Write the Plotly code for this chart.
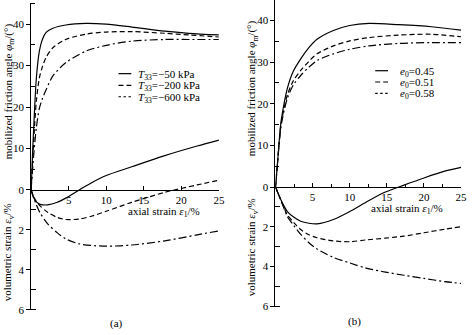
import plotly.graph_objects as go

# ---------------- data: panel (a) ----------------
a_eps_phi = [0, 0.2, 0.4, 0.7, 1.1, 1.5, 2.0, 2.9, 4.6, 7.3, 10, 13.4, 17.8, 21, 25]
a_phi_50 = [0, 9, 17, 27, 33.5, 36.3, 38, 39, 39.8, 40.2, 40.0, 39.3, 38.3, 37.8, 37.4]
a_phi_200 = [0, 7, 13.5, 21.5, 27, 29.7, 32, 34.3, 36.3, 37.6, 38.1, 38.2, 37.8, 37.4, 36.9]
a_phi_600 = [0, 5, 9.5, 15, 19.7, 22, 24.2, 27.5, 30.7, 33.5, 34.9, 35.9, 36.3, 36.3, 36.3]

a_eps_v = [0, 0.3, 0.7, 1.2, 2.2, 3.5, 4.6, 6.4, 8, 10, 13.4, 17.8, 22.1, 25]
a_ev_50 = [0, 0.35, 0.6, 0.72, 0.75, 0.62, 0.41, 0.0, -0.35, -0.72, -1.16, -1.72, -2.2, -2.5]
a_ev_200 = [0, 0.3, 0.58, 0.8, 1.12, 1.38, 1.48, 1.46, 1.32, 1.07, 0.62, 0.12, -0.25, -0.49]
a_ev_600 = [0, 0.35, 0.75, 1.15, 1.7, 2.15, 2.45, 2.7, 2.78, 2.82, 2.76, 2.55, 2.25, 2.05]

# ---------------- data: panel (b) ----------------
b_eps_phi = [0, 0.27, 0.7, 1.0, 1.6, 2.4, 3.4, 4.5, 5.6, 7.8, 10, 12.6, 16.6, 21, 25]
b_phi_45 = [0, 5.6, 15, 18.5, 23.7, 27.8, 30.8, 33.5, 35.5, 37.6, 38.8, 39.3, 39.0, 38.5, 37.7]
b_phi_51 = [0, 5.6, 14.5, 17.6, 22.1, 25.5, 28.0, 30.2, 32.0, 33.9, 35.1, 35.9, 36.5, 36.7, 36.1]
b_phi_58 = [0, 5.6, 14, 17.0, 21.3, 24.5, 26.8, 28.8, 30.4, 32.0, 33.1, 33.9, 34.5, 34.7, 34.7]

b_eps_v = [0, 0.5, 1.0, 1.6, 2.5, 3.4, 4.5, 5.6, 7.8, 10, 12.2, 14.8, 17.3, 20, 22.8, 25]
b_ev_45 = [0, 0.45, 0.85, 1.23, 1.52, 1.72, 1.82, 1.85, 1.63, 1.23, 0.76, 0.25, -0.1, -0.46, -0.8, -0.99]
b_ev_51 = [0, 0.45, 0.9, 1.4, 1.8, 2.14, 2.4, 2.55, 2.71, 2.75, 2.66, 2.57, 2.47, 2.3, 2.12, 2.0]
b_ev_58 = [0, 0.45, 0.92, 1.48, 1.95, 2.38, 2.8, 3.12, 3.54, 3.82, 4.08, 4.28, 4.44, 4.6, 4.76, 4.85]

a_labels = ["<i>T</i><sub>33</sub>=\u221250 kPa", "<i>T</i><sub>33</sub>=\u2212200 kPa", "<i>T</i><sub>33</sub>=\u2212600 kPa"]
b_labels = ["<i>e</i><sub>0</sub>=0.45", "<i>e</i><sub>0</sub>=0.51", "<i>e</i><sub>0</sub>=0.58"]

W, H = 474, 335
FONT = "Liberation Serif, Times New Roman, serif"
curve_dash = ["solid", "5px,3px", "8px,3px,2px,3px"]
legend_dash = ["solid", "5px,3px", "2.5px,2.5px"]

fig = go.Figure()

def add_lines(xa, ya_phi, ya_ev, eps_phi, phis, eps_v, evs):
    for i, y in enumerate(phis):
        fig.add_trace(go.Scatter(x=eps_phi, y=y, mode="lines", xaxis=xa, yaxis=ya_phi,
                                 line=dict(color="black", width=1.2, dash=curve_dash[i], shape="spline", smoothing=0.8),
                                 showlegend=False, hoverinfo="skip"))
    for i, y in enumerate(evs):
        fig.add_trace(go.Scatter(x=eps_v, y=y, mode="lines", xaxis=xa, yaxis=ya_ev,
                                 line=dict(color="black", width=1.2, dash=curve_dash[i], shape="spline", smoothing=0.8),
                                 showlegend=False, hoverinfo="skip"))

add_lines("x", "y", "y2", a_eps_phi, [a_phi_50, a_phi_200, a_phi_600], a_eps_v, [a_ev_50, a_ev_200, a_ev_600])
add_lines("x2", "y3", "y4", b_eps_phi, [b_phi_45, b_phi_51, b_phi_58], b_eps_v, [b_ev_45, b_ev_51, b_ev_58])

tickfont = dict(family=FONT, size=11, color="black")

def px_x(p):
    return p / W

def px_y(p):
    return 1 - p / H

def xaxis_cfg(x0, x1, y0px, minor):
    d = dict(domain=[px_x(x0), px_x(x1)], range=[0, 25], anchor="free", position=px_y(y0px),
             showline=True, linecolor="black", linewidth=1, ticks="inside", ticklen=4,
             tickcolor="black", tickvals=[5, 10, 15, 20, 25], showgrid=False, zeroline=False,
             tickfont=tickfont, fixedrange=True)
    if minor:
        d["minor"] = dict(tickvals=[2.5, 7.5, 12.5, 17.5, 22.5], ticks="inside", ticklen=3, tickcolor="black")
    return d

def yaxes_cfg(xname, top, zero, bottom, ppd, ppv):
    dom = [px_y(bottom), px_y(top)]
    phi_rng = [-(bottom - zero) / ppd, (zero - top) / ppd]
    ev_rng = [(bottom - zero) / ppv, -(zero - top) / ppv]
    ya = dict(domain=dom, range=phi_rng, anchor=xname, showline=True, linecolor="black", linewidth=1,
              ticks="outside", ticklen=4, tickcolor="black", tickvals=[10, 20, 30, 40], showgrid=False,
              zeroline=False, tickfont=tickfont, fixedrange=True,
              minor=dict(tickvals=[5, 15, 25, 35, 44.9], ticks="inside", ticklen=4, tickcolor="black"))
    yb = dict(domain=dom, range=ev_rng, anchor=xname, showline=False, ticks="outside", ticklen=4,
              tickcolor="black", tickvals=[0, 2, 4, 6], showgrid=False, zeroline=False, tickfont=tickfont,
              fixedrange=True, minor=dict(tickvals=[1, 3, 5, 6], ticks="inside", ticklen=5, tickcolor="black"))
    return ya, yb

ya, yb = yaxes_cfg("x", 3.4, 193.4, 315.6, 4.22, 20.32)
yc, yd = yaxes_cfg("x2", 0.5, 190.5, 312.2, 4.24, 20.22)
yb["overlaying"] = "y"
yd["overlaying"] = "y3"

fig.update_layout(
    width=W, height=H, margin=dict(l=0, r=0, t=0, b=0),
    paper_bgcolor="white", plot_bgcolor="white",
    font=dict(family=FONT, size=11, color="black"),
    xaxis=xaxis_cfg(31.5, 221.7, 193.4, False),
    xaxis2=xaxis_cfg(279.0, 467.0, 190.5, True),
    yaxis=ya, yaxis2=yb, yaxis3=yc, yaxis4=yd,
    showlegend=False,
)

# manual legends (sample line + text), rows in pixels
legend_specs = [
    (a_labels, 120, 133, 138, [75, 87, 98.5]),
    (b_labels, 380, 393, 403, [72, 83.5, 95]),
]
for labels, lx0, lx1, tx, rows in legend_specs:
    for i, lab in enumerate(labels):
        fig.add_shape(type="line", xref="paper", yref="paper", x0=px_x(lx0), x1=px_x(lx1),
                      y0=px_y(rows[i]), y1=px_y(rows[i]),
                      line=dict(color="black", width=1.2, dash=legend_dash[i]))
        fig.add_annotation(xref="paper", yref="paper", x=px_x(tx), y=px_y(rows[i] + 1), xanchor="left",
                           yanchor="middle", showarrow=False, text=lab,
                           font=dict(family=FONT, size=11, color="black"))

ann = [
    dict(text="axial strain <i>\u03b5</i><sub>1</sub>/%", x=px_x(205), y=px_y(216), xanchor="right"),
    dict(text="axial strain <i>\u03b5</i><sub>1</sub>/%", x=px_x(451), y=px_y(213), xanchor="right"),
    dict(text="mobilized friction angle <i>\u03c6</i><sub>m</sub>/(\u00b0)", x=px_x(9), y=px_y(93), textangle=-90),
    dict(text="volumetric strain <i>\u03b5</i><sub>v</sub>/%", x=px_x(9), y=px_y(257), textangle=-90),
    dict(text="mobilized friction angle <i>\u03c6</i><sub>m</sub>/(\u00b0)", x=px_x(256), y=px_y(90), textangle=-90),
    dict(text="volumetric strain <i>\u03b5</i><sub>v</sub>/%", x=px_x(256), y=px_y(252), textangle=-90),
    dict(text="(a)", x=px_x(118), y=px_y(329)),
    dict(text="(b)", x=px_x(359), y=px_y(327)),
]
for a in ann:
    a.setdefault("xanchor", "center")
    fig.add_annotation(xref="paper", yref="paper", showarrow=False, yanchor="middle",
                       font=dict(family=FONT, size=11, color="black"), **a)

fig.write_html("out.html")
